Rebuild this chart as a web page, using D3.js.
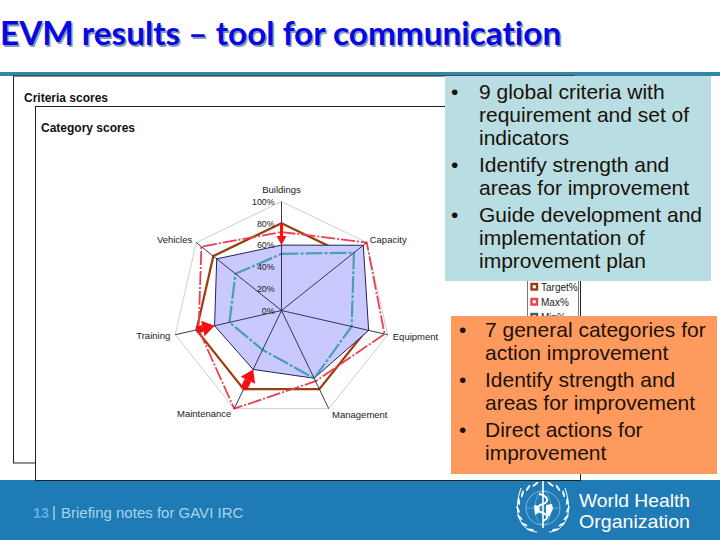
<!DOCTYPE html>
<html>
<head>
<meta charset="utf-8">
<script src="https://cdnjs.cloudflare.com/ajax/libs/d3/7.8.5/d3.min.js"></script>
<style>
  html, body { margin: 0; padding: 0; background: #fff; }
  svg { display: block; }
  text { font-family: "Liberation Sans", Arial, sans-serif; }
</style>
</head>
<body>
<svg id="chart" width="720" height="540"></svg>
<script>
const categories = ['Buildings', 'Capacity', 'Equipment', 'Management', 'Maintenance', 'Training', 'Vehicles'];
const targetPct = [80, 80, 80, 80, 80, 80, 80];
const maxPct = [72, 100, 97, 72, 100, 78, 94];
const scorePct = [60, 96, 82, 69, 60, 63, 76];
const minPct = [52, 85, 66, 69, 40, 49, 54];
const radialTicks = [0, 20, 40, 60, 80, 100];
// category, from %, to %
const gaps = [['Buildings', 80, 60], ['Maintenance', 80, 60], ['Training', 80, 63]];
const legendNames = ['Target%', 'Max%', 'Min%'];
const tealBullets = [
  ['9 global criteria with', 'requirement and set of', 'indicators'],
  ['Identify strength and', 'areas for improvement'],
  ['Guide development and', 'implementation of', 'improvement plan']
];
const orangeBullets = [
  ['7 general categories for', 'action improvement'],
  ['Identify strength and', 'areas for improvement'],
  ['Direct actions for', 'improvement']
];

const svg = d3.select('#chart');
const cx = 281.5;
const cy = 310.5;
const r = d3.scaleLinear().domain([0, 100]).range([0, 109]);
const angle = d3.scalePoint().domain(categories).range([0, 2 * Math.PI * 6 / 7]);

const point = (cat, v) => {
  const a = angle(cat);
  return [cx + r(v) * Math.sin(a), cy - r(v) * Math.cos(a)];
};
const ring = d3.lineRadial().angle(d => angle(d.cat)).radius(d => r(d.v)).curve(d3.curveLinearClosed);
const rows = values => categories.map((cat, i) => ({ cat, v: values[i] }));

// slide frame
svg.append('rect').attr('x', 0).attr('y', 72).attr('width', 720).attr('height', 4).attr('fill', '#3584aa');
svg.append('rect').attr('x', 0).attr('y', 480).attr('width', 720).attr('height', 60).attr('fill', '#1f7bb6');

const title = 'EVM results – tool for communication';
const titleText = (x, y, fill) => svg.append('text').attr('x', x).attr('y', y).text(title)
  .attr('font-size', 33.3).attr('font-weight', 700).attr('fill', fill)
  .style('font-family', 'Lato, sans-serif').style('font-variant-ligatures', 'none');
titleText(1.5, 46.5, '#8a9bb0');
titleText(0, 45, '#0808e6');

// stacked panels
svg.append('rect').attr('x', 13.5).attr('y', 76).attr('width', 560).attr('height', 387)
  .attr('fill', '#fff').attr('stroke', '#222').attr('stroke-width', 1);
svg.append('text').attr('x', 24).attr('y', 101.5).text('Criteria scores')
  .attr('font-size', 12).attr('font-weight', 700).attr('fill', '#111');
svg.append('rect').attr('x', 35.5).attr('y', 106.5).attr('width', 545).attr('height', 374)
  .attr('fill', '#fff').attr('stroke', '#222').attr('stroke-width', 1);
svg.append('text').attr('x', 41).attr('y', 131.5).text('Category scores')
  .attr('font-size', 12).attr('font-weight', 700).attr('fill', '#111');

// radar
const radar = svg.append('g').attr('transform', `translate(${cx},${cy})`);

radar.append('path').datum(rows(categories.map(() => 100))).attr('d', ring)
  .attr('fill', 'none').attr('stroke', '#cfcfcf').attr('stroke-width', 1);

radar.append('path').datum(rows(targetPct)).attr('d', ring)
  .attr('fill', 'none').attr('stroke', '#9a3d0e').attr('stroke-width', 2.2);

radar.append('path').datum(rows(maxPct)).attr('d', ring)
  .attr('fill', 'none').attr('stroke', '#f03c4e').attr('stroke-width', 1.8)
  .attr('stroke-dasharray', '14 2 2 2');

radar.append('path').datum(rows(scorePct)).attr('d', ring)
  .attr('fill', '#c9c9fd').attr('stroke', '#23235f').attr('stroke-width', 1);

svg.append('g').selectAll('line').data(categories).join('line')
  .attr('x1', cx).attr('y1', cy)
  .attr('x2', d => point(d, 100)[0]).attr('y2', d => point(d, 100)[1])
  .attr('stroke', '#23234f').attr('stroke-width', 0.9);

radar.append('path').datum(rows(minPct)).attr('d', ring)
  .attr('fill', 'none').attr('stroke', '#4a9fb8').attr('stroke-width', 2.2)
  .attr('stroke-dasharray', '17 2 3 2');

// gap arrows
gaps.forEach(([cat, from, to]) => {
  const [x1, y1] = point(cat, from);
  const [x2, y2] = point(cat, to);
  const len = Math.hypot(x2 - x1, y2 - y1);
  const ux = (x2 - x1) / len;
  const uy = (y2 - y1) / len;
  const thin = cat === 'Buildings';
  const head = thin ? 9 : 12;
  const half = thin ? 5 : 8;
  const bx = x2 - ux * head;
  const by = y2 - uy * head;
  svg.append('line').attr('x1', x1).attr('y1', y1).attr('x2', bx).attr('y2', by)
    .attr('stroke', '#f80d10').attr('stroke-width', thin ? 3 : 7);
  svg.append('path')
    .attr('d', d3.line()([[x2, y2], [bx - uy * half, by + ux * half], [bx + uy * half, by - ux * half]]) + 'Z')
    .attr('fill', '#f80d10');
});

// radial tick labels
const axisScale = d3.scaleLinear().domain([0, 100]).range([cy, cy - 109]);
const axis = svg.append('g').attr('transform', `translate(${cx},0)`)
  .call(d3.axisLeft(axisScale).tickValues(radialTicks).tickSize(0).tickPadding(7).tickFormat(d => d + '%'));
axis.select('.domain').remove();
axis.selectAll('text').attr('font-size', 8.8).attr('fill', '#222')
  .style('font-family', '"Liberation Sans", Arial, sans-serif');

// category labels: dx, dy, anchor
const labelOffset = {
  Buildings: [0, -9, 'middle'], Capacity: [3, 0, 'start'], Equipment: [5, 5, 'start'],
  Management: [31, 9, 'middle'], Maintenance: [-30, 8, 'middle'], Training: [-5, 4, 'end'], Vehicles: [-4, 0, 'end']
};
svg.append('g').selectAll('text').data(categories).join('text')
  .attr('x', d => point(d, 100)[0] + labelOffset[d][0])
  .attr('y', d => point(d, 100)[1] + labelOffset[d][1])
  .attr('text-anchor', d => labelOffset[d][2])
  .attr('font-size', 9.5).attr('fill', '#1a1a1a').text(d => d);

// legend peeking out between the boxes
svg.append('rect').attr('x', 527.5).attr('y', 270).attr('width', 51).attr('height', 60)
  .attr('fill', '#fff').attr('stroke', '#777').attr('stroke-width', 1);
const legendY = d3.scalePoint().domain(legendNames).range([291, 321]);
const legendColor = d3.scaleOrdinal().domain(legendNames).range(['#9a3d0e', '#f03c4e', '#555']);
const legendRows = svg.append('g').selectAll('g').data(legendNames).join('g');
legendRows.append('rect')
  .attr('x', 531.5).attr('y', d => legendY(d) - 7).attr('width', 5.5).attr('height', 5.5)
  .attr('fill', '#fff').attr('stroke', d => legendColor(d)).attr('stroke-width', 2.4);
legendRows.append('text').attr('x', 541).attr('y', legendY).attr('font-size', 10).attr('fill', '#222').text(d => d);

// callout boxes
const callout = (x, y, w, h, fill, bullets, size, bulletX, textX, firstY, lineGap, paraGap) => {
  svg.append('rect').attr('x', x).attr('y', y).attr('width', w).attr('height', h).attr('fill', fill);
  let base = firstY;
  bullets.forEach(lines => {
    svg.append('text').attr('x', bulletX).attr('y', base).attr('font-size', size).attr('fill', '#1a1208').text('•');
    lines.forEach((line, i) => {
      svg.append('text').attr('x', textX).attr('y', base + i * lineGap)
        .attr('font-size', size).attr('fill', '#1a1208').text(line);
    });
    base += lines.length * lineGap + paraGap;
  });
};
callout(445, 76, 266, 205, '#b8dde2', tealBullets, 21, 451, 479, 99, 23, 4);
callout(451, 316, 266, 158, '#ff9a5f', orangeBullets, 21, 459, 485, 337, 22.5, 5);

// footer
svg.append('text').attr('x', 33).attr('y', 518).attr('font-size', 14.5).attr('font-weight', 700)
  .attr('fill', '#5fb0de').text('13');
svg.append('text').attr('x', 52).attr('y', 517).attr('font-size', 14.5).attr('fill', '#bcdcf0').text('|');
svg.append('text').attr('x', 61).attr('y', 518).attr('font-size', 15).attr('fill', '#a9d3ee').text('Briefing notes for GAVI IRC');

// WHO emblem
const logo = svg.append('g').attr('transform', 'translate(543,508)').attr('fill', 'none').attr('stroke', '#fff');
logo.append('circle').attr('r', 17).attr('stroke-width', 0.6).attr('stroke-opacity', 0.7);
logo.append('ellipse').attr('rx', 8).attr('ry', 17).attr('stroke-width', 0.5).attr('stroke-opacity', 0.6);
logo.append('line').attr('x1', -17).attr('x2', 17).attr('stroke-width', 0.5).attr('stroke-opacity', 0.6);
logo.append('line').attr('y1', -27).attr('y2', 20).attr('stroke-width', 1.6);
logo.append('path').attr('d', 'M-4,-14C6,-12 6,-6 0,-4C-7,-2 -7,3 0,5C6,7 5,11 0,13').attr('stroke-width', 2);
[-1, 1].forEach(side => {
  logo.append('path').attr('d', `M${side * 6},24C${side * 22},23 ${side * 31},6 ${side * 22},-20`).attr('stroke-width', 1);
  d3.range(8).forEach(i => {
    const a = -1.05 + i * 0.33;
    logo.append('ellipse').attr('rx', 1).attr('ry', 3.6).attr('fill', '#fff').attr('stroke', 'none')
      .attr('transform', `translate(${side * 25 * Math.cos(a)},${25 * Math.sin(-a) * -1 * -1}) rotate(${side * (a * 57 * -1 + 20)})`);
  });
});
logo.append('path').attr('d', 'M-9,-3l5,1l1,6l-5,3z').attr('fill', '#fff').attr('stroke', 'none');
logo.append('path').attr('d', 'M3,-3l6,-1l1,5l-4,8l-3,-4z').attr('fill', '#fff').attr('stroke', 'none');

const whoFont = '"Liberation Sans Narrow", "Liberation Sans", sans-serif';
['World Health', 'Organization'].forEach((line, i) => {
  svg.append('text').attr('x', 579).attr('y', 507 + i * 21).attr('font-size', 18.5).attr('fill', '#fff')
    .attr('textLength', 111).attr('lengthAdjust', 'spacingAndGlyphs')
    .style('font-family', whoFont).text(line);
});
</script>
</body>
</html>
